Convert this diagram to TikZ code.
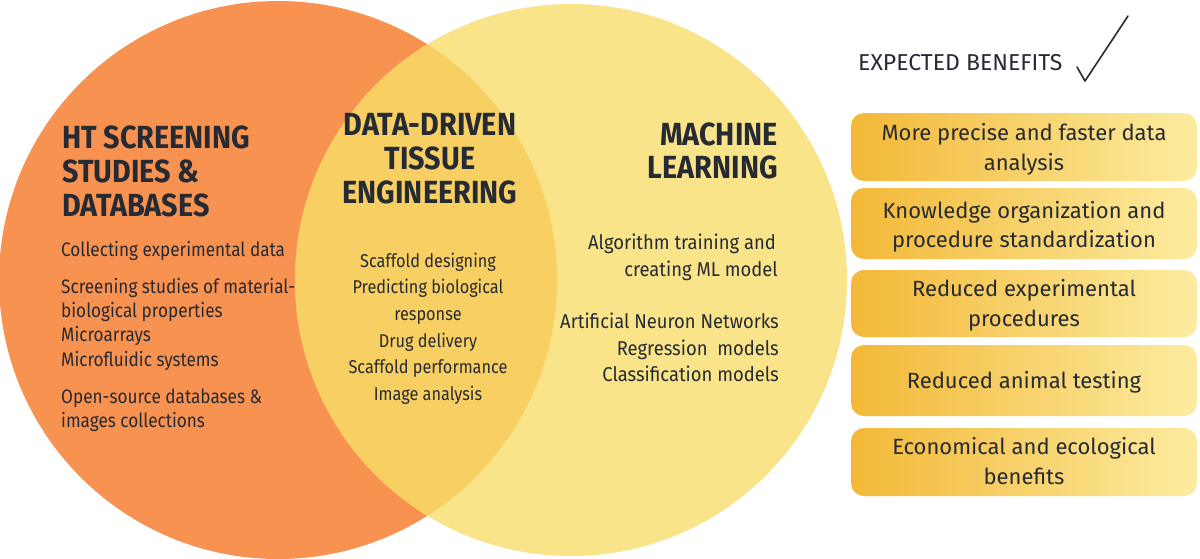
\documentclass[tikz,border=0pt]{standalone}
\usepackage{fontspec}
\setmainfont{Fira Sans}
\newfontfamily\titlefont[FakeStretch=0.9]{Fira Sans}
\newfontfamily\bodyfont[FakeStretch=0.88]{Fira Sans}
\newfontfamily\bodyfontr[FakeStretch=0.92]{Fira Sans}
\newfontfamily\benfont{Fira Sans}
\definecolor{orangeC}{RGB}{247,146,80}
\definecolor{yellowC}{RGB}{249,228,138}
\definecolor{overlapC}{RGB}{247,207,98}
\definecolor{ink}{RGB}{38,42,51}
\definecolor{boxL}{RGB}{243,184,55}
\definecolor{boxR}{RGB}{252,236,160}
\tikzset{
  ttl/.style={inner sep=0pt, text=ink, font=\titlefont\bfseries\fontsize{32}{36}\selectfont},
  bdy/.style={inner sep=0pt, text=ink, font=\bodyfont\fontsize{19.5}{24}\selectfont},
  bdym/.style={inner sep=0pt, text=ink, font=\bodyfont\fontsize{18.5}{24}\selectfont},
  bdyr/.style={inner sep=0pt, text=ink, font=\bodyfontr\fontsize{20}{24}\selectfont},
  ben/.style={inner sep=0pt, text=ink, font=\benfont\fontsize{22}{26}\selectfont},
  benbox/.style={rounded corners=13pt, left color=boxL, right color=boxR, draw=none, minimum width=346pt, inner sep=0pt},
}
\begin{document}
\begin{tikzpicture}[x=1pt,y=-1pt]
\useasboundingbox (0,0) rectangle (1200,558);
\fill[white] (0,0) rectangle (1200,558);
% circles
\fill[orangeC] (278,280) circle[radius=279pt];
\fill[yellowC] (571,280) circle[radius=276pt];
\begin{scope}
\clip (278,280) circle[radius=279pt];
\fill[overlapC] (571,280) circle[radius=276pt];
\end{scope}
% left
\node[ttl, anchor=base west] (l1) at (62,148) {HT SCREENING};
\node[ttl, anchor=base west] (l2) at (62,182) {STUDIES \&};
\node[ttl, anchor=base west] (l3) at (62,216) {DATABASES};
\node[bdy, anchor=base west] (lb1) at (61,256) {Collecting experimental data};
\node[bdy, anchor=base west] (lb2) at (61,293) {Screening studies of material-};
\node[bdy, anchor=base west] (lb3) at (61,317) {biological properties};
\node[bdy, anchor=base west] (lb4) at (61,341) {Microarrays};
\node[bdy, anchor=base west] (lb5) at (61,366) {Microfluidic systems};
\node[bdy, anchor=base west] (lb6) at (61,403) {Open-source databases \&};
\node[bdy, anchor=base west] (lb7) at (61,427) {images collections};
% middle
\node[ttl, anchor=base] (m1) at (430,135) {DATA-DRIVEN};
\node[ttl, anchor=base] (m2) at (430,169) {TISSUE};
\node[ttl, anchor=base] (m3) at (430,203) {ENGINEERING};
\node[bdym, anchor=base] (mb1) at (428,267) {Scaffold designing};
\node[bdym, anchor=base] (mb2) at (428,293) {Predicting biological};
\node[bdym, anchor=base] (mb3) at (428,320) {response};
\node[bdym, anchor=base] (mb4) at (428,347) {Drug delivery};
\node[bdym, anchor=base] (mb5) at (428,373) {Scaffold performance};
\node[bdym, anchor=base] (mb6) at (428,400) {Image analysis};
% right
\node[ttl, anchor=base east] (r1) at (778,145) {MACHINE};
\node[ttl, anchor=base east] (r2) at (778,178) {LEARNING};
\node[bdyr, anchor=base east] (rb1) at (776,249) {Algorithm training and};
\node[bdyr, anchor=base east] (rb2) at (778,276) {creating ML model};
\node[bdyr, anchor=base east] (rb3) at (779,328) {Artificial Neuron Networks};
\node[bdyr, anchor=base east] (rb4) at (779,355) {Regression\ \ models};
\node[bdyr, anchor=base east] (rb5) at (779,381) {Classification models};
% benefits
\node[inner sep=0pt, text=ink, anchor=base west, font=\benfont\fontsize{23}{26}\selectfont] (eb) at (858,70) {EXPECTED BENEFITS};
\draw[ink, line width=1.6pt, line join=round, line cap=round] (1077,67) -- (1085,81) -- (1128,16);
\node[benbox, minimum height=68pt] (b1) at (1024,147) {};
\node[benbox, minimum height=71pt] (b2) at (1024,223.5) {};
\node[benbox, minimum height=67pt] (b3) at (1024,303.5) {};
\node[benbox, minimum height=71pt] (b4) at (1024,380.5) {};
\node[benbox, minimum height=68pt] (b5) at (1024,462) {};
\node[ben, anchor=base] (t1a) at (1024,140) {More precise and faster data};
\node[ben, anchor=base] (t1b) at (1024,170) {analysis};
\node[ben, anchor=base] (t2a) at (1024,218) {Knowledge organization and};
\node[ben, anchor=base] (t2b) at (1024,247) {procedure standardization};
\node[ben, anchor=base] (t3a) at (1024,296) {Reduced experimental};
\node[ben, anchor=base] (t3b) at (1024,326) {procedures};
\node[ben, anchor=base] (t4) at (1024,388) {Reduced animal testing};
\node[ben, anchor=base] (t5a) at (1024,454) {Economical and ecological};
\node[ben, anchor=base] (t5b) at (1024,484) {benefits};
\end{tikzpicture}
\end{document}
